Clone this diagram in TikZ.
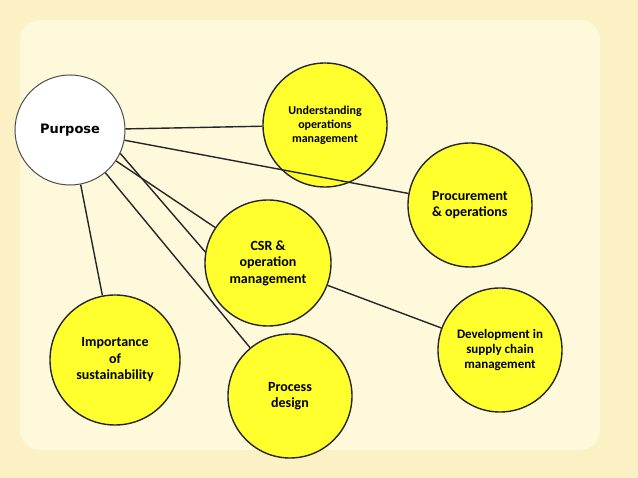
\documentclass[tikz,border=0pt]{standalone}
\usepackage{fontspec}
\setmainfont{Carlito}
\newfontfamily\heavyfont{DejaVu Sans}
\definecolor{bg}{HTML}{FBF1C4}
\definecolor{panel}{HTML}{FFF9DC}
\definecolor{bub}{HTML}{FFFF2E}
\begin{document}
\begin{tikzpicture}[x=1pt,y=-1pt,
  bubble/.style={circle,draw=black!85,line width=1.4pt,fill=bub,align=center,font=\bfseries\fontsize{14}{16.5}\selectfont,inner sep=0pt},
  link/.style={draw=black!85,line width=1.4pt}]
\fill[bg] (0,0) rectangle (638,478);
\useasboundingbox (0,0) rectangle (638,478);
\fill[panel,rounded corners=20pt] (20,20) rectangle (600,450);
\node[circle,draw=black!70,line width=1pt,fill=white,minimum size=110pt,inner sep=0pt,font=\heavyfont\bfseries\fontsize{13}{16}\selectfont] (p) at (70,130) {Purpose};
\node[bubble,minimum size=124pt,font=\bfseries\fontsize{12}{14}\selectfont] (u) at (325,125) {Understanding\\operations\\management};
\node[bubble,minimum size=124pt,align=left] (pr) at (470,205) {Procurement\\\& operations};
\node[bubble,minimum size=126pt] (c) at (268,263) {CSR \&\\operation\\management};
\node[bubble,minimum size=124pt,font=\bfseries\fontsize{13}{15}\selectfont] (d) at (500,350) {Development in\\supply chain\\management};
\node[bubble,minimum size=130pt] (i) at (115,360) {Importance\\of\\sustainability};
\node[bubble,minimum size=124pt] (pd) at (290,396) {Process\\design};
\draw[link] (p) -- (u);
\draw[link] (p) -- (pr);
\draw[link] (p) -- (c);
\draw[link] (p) -- (pd);
\draw[link] (p) -- (i);
\draw[link] (p.-25) -- (c.170);
\draw[link] (c) -- (d);
\end{tikzpicture}
\end{document}
